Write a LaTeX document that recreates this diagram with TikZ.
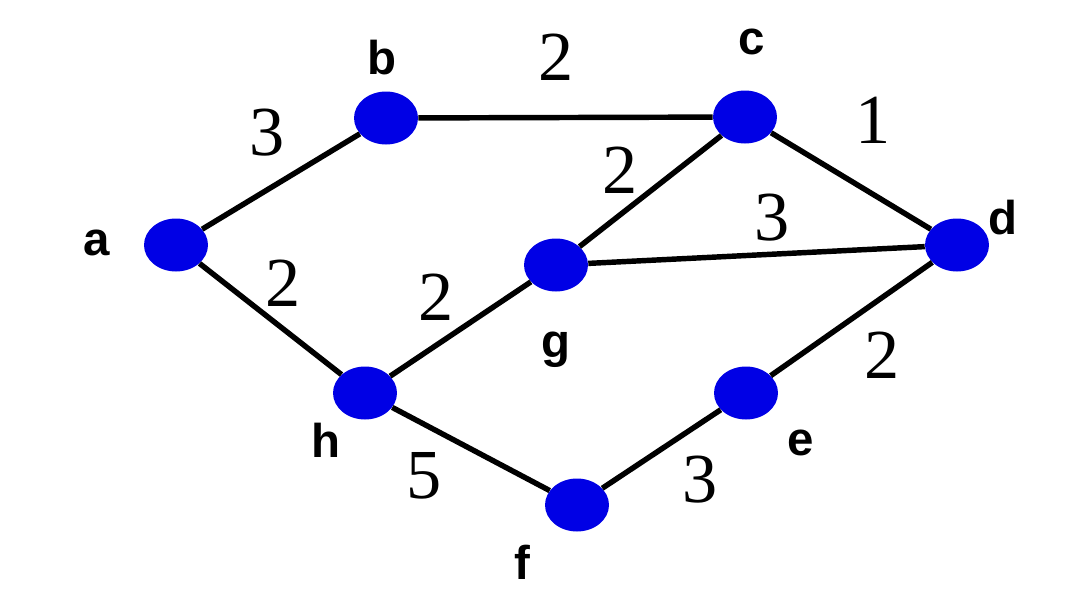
\documentclass[tikz,border=0pt]{standalone}
\usepackage{fontspec}
\setmainfont{Liberation Serif}
\newfontfamily\lblfont{Liberation Sans}
\usetikzlibrary{shapes.geometric}
\begin{document}
\begin{tikzpicture}[x=0.02cm,y=-0.02cm,
  vert/.style={ellipse,fill=blue!90!black,draw=none,minimum width=1.28cm,minimum height=1.06cm,inner sep=0pt},
  edge/.style={line width=3.1pt,black},
  wt/.style={font=\fontsize{40}{40}\selectfont},
  nm/.style={font=\lblfont\bfseries\fontsize{27}{27}\selectfont}]
\useasboundingbox (0,0) rectangle (1090,600);
\node[vert] (a) at (176,245) {};
\node[vert] (b) at (386,118) {};
\node[vert] (c) at (745,117) {};
\node[vert] (d) at (957,245) {};
\node[vert] (g) at (556,265) {};
\node[vert] (h) at (365,393) {};
\node[vert] (e) at (746,393) {};
\node[vert] (f) at (577,505) {};
\draw[edge] (a) -- (b);
\draw[edge] (a) -- (h);
\draw[edge] (b) -- (c);
\draw[edge] (c) -- (g);
\draw[edge] (c) -- (d);
\draw[edge] (g) -- (d);
\draw[edge] (h) -- (g);
\draw[edge] (h) -- (f);
\draw[edge] (f) -- (e);
\draw[edge] (e) -- (d);
\node[wt] (w1) at (267,133) {3};
\node[wt] (w2) at (556,57) {2};
\node[wt] (w3) at (873,120) {1};
\node[wt] (w4) at (620,170) {2};
\node[wt] (w5) at (772,218) {3};
\node[wt] (w6) at (283,283) {2};
\node[wt] (w7) at (436,297) {2};
\node[wt] (w8) at (882,355) {2};
\node[wt] (w9) at (424,476) {5};
\node[wt] (w10) at (700,480) {3};
\node[nm] (la) at (97,243) {a};
\node[nm] (lb) at (382,58) {b};
\node[nm] (lc) at (752,42) {c};
\node[nm] (ld) at (1003,218) {d};
\node[nm] (lg) at (556,350) {g};
\node[nm] (lh) at (326,440) {h};
\node[nm] (le) at (801,443) {e};
\node[nm] (lf) at (522,562) {f};
\end{tikzpicture}
\end{document}
